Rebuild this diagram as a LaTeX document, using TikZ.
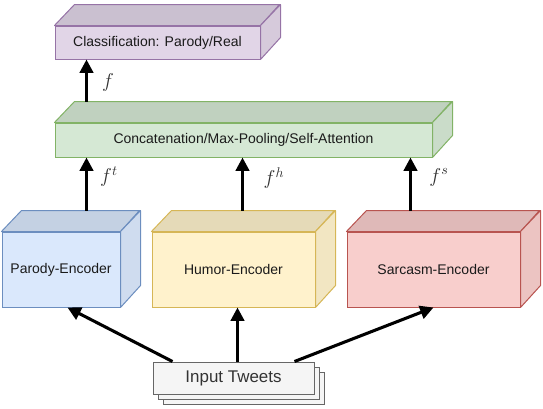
\documentclass[tikz,border=0pt]{standalone}
\usepackage{fontspec}
\setmainfont{Liberation Sans}
\usepackage{fix-cm}
\usetikzlibrary{arrows.meta,shadows,calc}
\definecolor{purF}{HTML}{E1D5E7}\definecolor{purD}{HTML}{9673A6}
\definecolor{grnF}{HTML}{D5E8D4}\definecolor{grnD}{HTML}{82B366}
\definecolor{bluF}{HTML}{DAE8FC}\definecolor{bluD}{HTML}{6C8EBF}
\definecolor{yelF}{HTML}{FFF2CC}\definecolor{yelD}{HTML}{D6B656}
\definecolor{redF}{HTML}{F8CECC}\definecolor{redD}{HTML}{B85450}
\definecolor{gryF}{HTML}{F5F5F5}\definecolor{gryD}{HTML}{666666}
\definecolor{txt}{HTML}{1A1A1A}
\newcommand\mycube[8]{%
  % name, left, top, right, bottom, fill, draw, text
  \node[cubefront, fill=#6, draw=#7, minimum width={(#4-#2)*0.75pt}, minimum height={(#5-#3)*0.75pt}]
    (#1) at ({(#2+#4)/2},{(#3+#5)/2}) {#8};
  \filldraw[fill=#6!90!black, draw=#7, line width=0.75pt, line join=round]
    (#1.north west) -- ++(20,-21) -- ++({#4-#2},0) -- (#1.north east) -- cycle;
  \filldraw[fill=#6!95!black, draw=#7, line width=0.75pt, line join=round]
    (#1.north east) -- ++(20,-21) -- ++(0,{#5-#3}) -- (#1.south east) -- cycle;
}
\begin{document}
\begin{tikzpicture}[x=0.75pt,y=-0.75pt,
  cubefront/.style={rectangle, inner sep=0pt, line width=0.75pt, text=txt,
    font=\fontsize{10.5}{12}\selectfont},
  arr/.style={line width=2.3pt, -{Triangle[length=10pt,width=10pt]}},
  flabel/.style={text=black!80, font=\fontsize{15}{17}\selectfont, inner sep=0pt},
  tweetbox/.style={rectangle, fill=gryF, draw=gryD, line width=0.75pt, text=black!80,
    inner sep=0pt, minimum width=120.75pt, minimum height=24pt,
    font=\fontsize{12.7}{14}\selectfont,
    double copy shadow={shadow xshift=3.75pt, shadow yshift=-3.75pt, fill=gryF, draw=gryD, line width=0.75pt}}]
\useasboundingbox (0,0) rectangle (543,408);

\mycube{cls}{55}{26}{260}{59}{purF}{purD}{Classification: Parody/Real}
\mycube{cat}{55}{123}{432}{157}{grnF}{grnD}{Concatenation/Max-Pooling/Self-Attention}
\mycube{par}{2}{232}{120}{307}{bluF}{bluD}{Parody-Encoder}
\mycube{hum}{152}{232}{315}{307}{yelF}{yelD}{Humor-Encoder}
\mycube{sar}{347}{232}{520}{307}{redF}{redD}{Sarcasm-Encoder}

\node[tweetbox] (tw) at (233.5,378) {Input Tweets};

% upward arrows
\draw[arr] ([xshift=24pt,yshift=15.75pt]cat.north west) -- ([xshift=24pt]cls.south west);
\draw[arr] ([xshift=63.75pt,yshift=15.75pt]par.north west) -- ([xshift=24pt]cat.south west);
\draw[arr] ([xshift=68.25pt,yshift=15.75pt]hum.north west) -- ([xshift=141pt]cat.south west);
\draw[arr] ([xshift=48pt,yshift=15.75pt]sar.north west) -- ([xshift=267pt]cat.south west);

% from tweets
\draw[arr] ([xshift=15pt]tw.north west) -- ([xshift=49.5pt]par.south west);
\draw[arr] ([xshift=63.75pt]tw.north west) -- ([xshift=64.5pt]hum.south west);
\draw[arr] ([xshift=106.5pt]tw.north west) -- ([xshift=65.25pt]sar.south west);

% labels
\node[flabel] (lf) at (108,82) {$f$};
\node[flabel] (lft) at (109,177) {$f^t$};
\node[flabel] (lfh) at (274,178) {$f^h$};
\node[flabel] (lfs) at (439,177) {$f^s$};
\end{tikzpicture}
\end{document}
